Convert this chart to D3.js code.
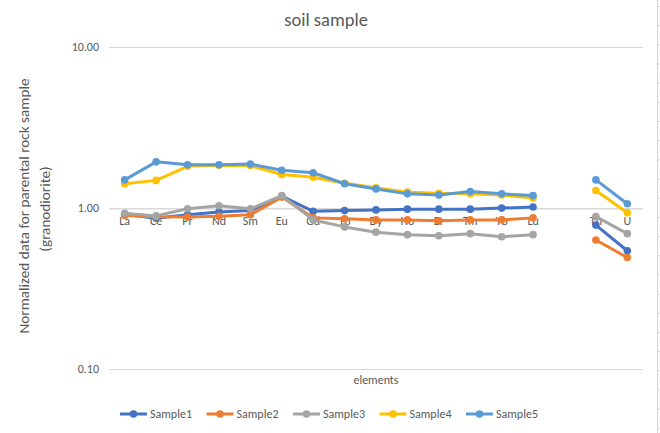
<!DOCTYPE html>
<html>
<head>
<meta charset="utf-8">
<script src="https://cdn.jsdelivr.net/npm/d3@7"></script>
<style>
  body { margin: 0; background: #fff; }
  svg text { font-family: Calibri, Lato, "Liberation Sans", sans-serif; fill: #595959; }
</style>
</head>
<body>
<div id="graf"></div>
<script>
// Datos
const elements = ["La", "Ce", "Pr", "Nd", "Sm", "Eu", "Gd", "Tb", "Dy", "Ho", "Er", "Tm", "Yb", "Lu", " ", "Th", "U"]
const seriesNames = ["Sample1", "Sample2", "Sample3", "Sample4", "Sample5"]
const sample1 = [0.91, 0.86, 0.905, 0.94, 0.96, 1.18, 0.95, 0.96, 0.97, 0.98, 0.98, 0.98, 0.995, 1.01, null, 0.78, 0.54]
const sample2 = [0.895, 0.88, 0.875, 0.885, 0.905, 1.165, 0.865, 0.855, 0.84, 0.84, 0.83, 0.84, 0.84, 0.865, null, 0.63, 0.49]
const sample3 = [0.925, 0.89, 0.985, 1.03, 0.985, 1.19, 0.84, 0.76, 0.705, 0.68, 0.67, 0.69, 0.66, 0.68, null, 0.88, 0.69]
const sample4 = [1.41, 1.48, 1.81, 1.84, 1.83, 1.61, 1.55, 1.42, 1.33, 1.25, 1.23, 1.22, 1.2, 1.15, null, 1.28, 0.93]
const sample5 = [1.49, 1.93, 1.85, 1.85, 1.87, 1.71, 1.65, 1.41, 1.31, 1.22, 1.2, 1.26, 1.22, 1.19, null, 1.49, 1.06]
const yTicks = [0.1, 1, 10]
const colors = ["#4472C4", "#ED7D31", "#A5A5A5", "#FFC000", "#5B9BD5"]

const series = [sample1, sample2, sample3, sample4, sample5].map((vals, i) => ({
  name: seriesNames[i],
  values: vals.map((v, j) => ({ el: elements[j], v: v })),
}))

// Dimensiones
const anchoTotal = 660
const altoTotal = 433
const margins = { top: 47, right: 17, bottom: 64.5, left: 109 }
const ancho = anchoTotal - margins.left - margins.right
const alto = altoTotal - margins.top - margins.bottom

const svg = d3
  .select("#graf")
  .append("svg")
  .attr("width", anchoTotal)
  .attr("height", altoTotal)

// borde de la hoja a la derecha
const hoja = svg.append("g")
hoja
  .append("line")
  .attr("x1", 657.5).attr("x2", 657.5)
  .attr("y1", 0).attr("y2", altoTotal)
  .attr("stroke", "#d4d4d4")
hoja
  .selectAll("line.fila")
  .data(d3.range(6.5, altoTotal, 19.17))
  .enter()
  .append("line")
  .attr("class", "fila")
  .attr("x1", 657.5).attr("x2", 660)
  .attr("y1", (d) => d).attr("y2", (d) => d)
  .attr("stroke", "#d4d4d4")

const g = svg
  .append("g")
  .attr("transform", `translate(${margins.left}, ${margins.top})`)

// Escaladores
const x = d3.scaleBand().domain(elements).range([0, ancho])
const y = d3.scaleLog().domain([0.1, 10]).range([alto, 0])
const xc = (d) => x(d.el) + x.bandwidth() / 2

// Rejilla
g.append("g")
  .selectAll("line")
  .data(yTicks)
  .enter()
  .append("line")
  .attr("x1", 0)
  .attr("x2", ancho)
  .attr("y1", (d) => Math.round(y(d)) + 0.5)
  .attr("y2", (d) => Math.round(y(d)) + 0.5)
  .attr("stroke", "#d9d9d9")
  .attr("stroke-width", 1)

// Eje y
const yAxis = d3.axisLeft(y).tickValues(yTicks).tickFormat(d3.format(".2f")).tickSize(0).tickPadding(10)
g.append("g")
  .call(yAxis)
  .call((s) => s.select(".domain").remove())
  .call((s) => s.selectAll("text").style("font-size", "12px").attr("fill", "#595959"))

// Eje x (cruza en 1.00)
const xAxis = d3.axisBottom(x).tickSize(0).tickPadding(8)
g.append("g")
  .attr("transform", `translate(0, ${Math.round(y(1)) + 0.5})`)
  .call(xAxis)
  .call((s) => s.select(".domain").attr("stroke", "#d9d9d9"))
  .call((s) => s.selectAll("text").style("font-size", "12px").attr("fill", "#595959"))

// Líneas
const line = d3
  .line()
  .defined((d) => d.v != null)
  .x(xc)
  .y((d) => y(d.v))

const serie = g
  .selectAll("g.serie")
  .data(series)
  .enter()
  .append("g")
  .attr("class", "serie")

serie
  .append("path")
  .attr("d", (d) => line(d.values))
  .attr("fill", "none")
  .attr("stroke", (d, i) => colors[i])
  .attr("stroke-width", 3)
  .attr("stroke-linejoin", "round")
  .attr("stroke-linecap", "round")

serie.each(function (d, i) {
  d3.select(this)
    .selectAll("circle")
    .data(d.values.filter((p) => p.v != null))
    .enter()
    .append("circle")
    .attr("cx", xc)
    .attr("cy", (p) => y(p.v))
    .attr("r", 3.8)
    .attr("fill", colors[i])
})

// Títulos
svg
  .append("text")
  .attr("x", 326)
  .attr("y", 26)
  .attr("text-anchor", "middle")
  .style("font-size", "18.5px")
  .text("soil sample")

svg
  .append("text")
  .attr("x", margins.left + ancho / 2)
  .attr("y", 384)
  .attr("text-anchor", "middle")
  .style("font-size", "12px")
  .text("elements")

const yTitle = svg
  .append("text")
  .attr("transform", "translate(0, 206) rotate(-90)")
  .attr("text-anchor", "middle")
  .style("font-size", "15.2px")
yTitle.append("tspan").attr("x", 0).attr("y", 29).text("Normalized data for parental rock sample")
yTitle.append("tspan").attr("x", -3).attr("y", 50).text("(granodiorite)")

// Leyenda
const leyenda = svg
  .append("g")
  .selectAll("g")
  .data(seriesNames)
  .enter()
  .append("g")
  .attr("transform", (d, i) => `translate(${120 + i * 86.5}, 414)`)

leyenda
  .append("line")
  .attr("x1", 0).attr("x2", 27)
  .attr("stroke", (d, i) => colors[i])
  .attr("stroke-width", 3)
leyenda
  .append("circle")
  .attr("cx", 13.5)
  .attr("r", 3.8)
  .attr("fill", (d, i) => colors[i])
leyenda
  .append("text")
  .attr("x", 30)
  .attr("y", 4)
  .style("font-size", "12px")
  .text((d) => d)
</script>
</body>
</html>
